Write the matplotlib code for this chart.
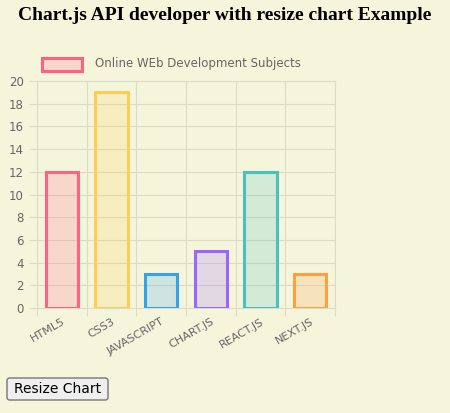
import matplotlib
matplotlib.use("Agg")
import matplotlib.pyplot as plt
from matplotlib.patches import Rectangle, FancyBboxPatch

labels = ["HTML5", "CSS3", "JAVASCRIPT", "CHART.JS", "REACT.JS", "NEXT.JS"]
values = [12, 19, 3, 5, 12, 3]
colors = [(255, 99, 132), (255, 205, 86), (54, 162, 235),
          (153, 102, 255), (75, 192, 192), (255, 159, 64)]
legend_label = "Online WEb Development Subjects"

W, H = 450, 413
bg = "#f5f5dc"
fig = plt.figure(figsize=(W / 100, H / 100), dpi=100, facecolor=bg)

fig.text(225 / W, 1 - 16 / H, "Chart.js API developer with resize chart Example",
         ha="center", va="center", fontsize=14, fontweight="bold",
         family="Liberation Serif")

ax = fig.add_axes([37 / W, 1 - 308 / H, 298 / W, 227 / H], facecolor=bg)
cols = [tuple(c / 255 for c in rgb) for rgb in colors]
x = range(len(labels))
ax.bar(x, values, width=0.65, color=[c + (0.2,) for c in cols],
       edgecolor=cols, linewidth=2.2, zorder=3)
ax.set_xlim(-0.5, len(labels) - 0.5)
ax.set_ylim(0, 20)
ax.set_yticks(range(0, 21, 2))
ax.set_xticks([i + 0.5 for i in range(-1, len(labels))], minor=False)
ax.set_xticks(list(x), minor=True)
ax.set_xticklabels([""] * (len(labels) + 1))
ax.set_xticklabels(labels, minor=True, rotation=30, ha="right",
                   rotation_mode="anchor", fontsize=8, color="#666666")
ax.tick_params(axis="x", which="major", length=6, color="#dcdcc6")
ax.tick_params(axis="x", which="minor", length=0, pad=6)
ax.tick_params(axis="y", length=6, color="#dcdcc6", labelsize=8.5, labelcolor="#666666")
ax.grid(True, color="#dcdcc6", linewidth=0.8, zorder=0)
ax.grid(False, which="minor")
for s in ax.spines.values():
    s.set_color("#dcdcc6")

# legend
fig.patches.append(Rectangle((42 / W, 1 - 71 / H), 40 / W, 13 / H,
                             transform=fig.transFigure, facecolor=cols[0] + (0.2,),
                             edgecolor=cols[0], linewidth=2.2))
fig.text(95 / W, 1 - 64 / H, legend_label, ha="left", va="center",
         fontsize=8.5, color="#666666")

# button
fig.patches.append(FancyBboxPatch((7 / W, 1 - 400 / H), 101 / W, 22 / H,
                                  boxstyle="round,pad=0,rounding_size=0.006",
                                  transform=fig.transFigure, facecolor="#efefef",
                                  edgecolor="#767676", linewidth=1))
fig.text(57.5 / W, 1 - 389 / H, "Resize Chart", ha="center", va="center",
         fontsize=10, color="black")

fig.savefig("out.png", dpi=100, facecolor=bg)
